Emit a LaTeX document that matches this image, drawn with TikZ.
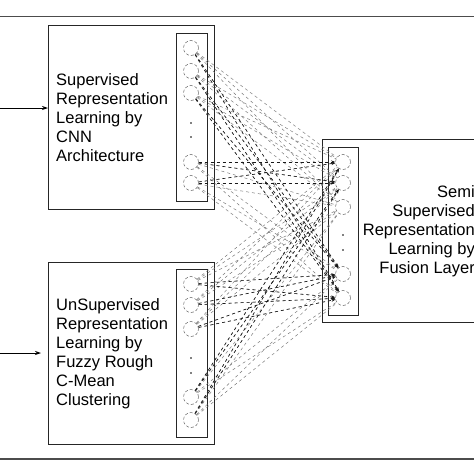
\documentclass[tikz,border=0pt]{standalone}
\usepackage{fontspec}
\setmainfont{Liberation Sans}
\usetikzlibrary{arrows.meta}
\begin{document}
\begin{tikzpicture}[x=1pt,y=-1pt,
 box/.style={draw=black!85, line width=1.3pt, inner sep=0pt, anchor=north west},
 neuron/.style={circle, draw=black!60, densely dashed, line width=0.5pt, minimum size=15pt, inner sep=0pt},
 faint/.style={draw=black!55, dashed, line width=0.45pt},
 strong/.style={draw=black!90, dashed, line width=0.6pt, -{Stealth[length=4pt,width=3pt]}},
 lbl/.style={font=\fontsize{16.5}{19}\selectfont, inner sep=0pt},
 rulestyle/.style={draw=black!70, line width=1.5pt},
 inarrow/.style={draw=black, line width=0.8pt, -{Stealth[length=6pt,width=4pt]}}]
\useasboundingbox (0,0) rectangle (474,474);
\fill[white] (0,0) rectangle (474,474);

% horizontal rules
\coordinate (tl) at (0,16.5); \coordinate (tr) at (474,16.5);
\coordinate (bl) at (0,459); \coordinate (br) at (474,459);
\draw[rulestyle] (tl) -- (tr);
\draw[rulestyle] (bl) -- (br);

% outer boxes
\node[box, minimum width=166pt, minimum height=184pt] (A) at (48,25) {};
\node[box, minimum width=166pt, minimum height=182pt] (B) at (48,262) {};
\node[box, minimum width=170pt, minimum height=183pt] (C) at (322,139) {};

% inner boxes
\node[box, minimum width=31pt, minimum height=168pt] (Ai) at (176,33) {};
\node[box, minimum width=31pt, minimum height=168pt] (Bi) at (176,269) {};
\node[box, minimum width=30pt, minimum height=168pt] (Ci) at (328,147) {};

% input arrows
\coordinate (inA) at (0,108);
\draw[inarrow] (inA) -- (inA -| A.west);
\coordinate (inB) at (0,353);
\coordinate (inBend) at (41,353);
\draw[inarrow] (inB) -- (inBend);

% labels
\node[lbl, align=left, anchor=west] (tA) at (56,118) {Supervised\\Representation\\Learning by\\CNN\\Architecture};
\node[lbl, align=left, anchor=west] (tB) at (56,354) {UnSupervised\\Representation\\Learning by\\Fuzzy Rough\\C-Mean\\Clustering};
\node[lbl, align=right, anchor=east] (tC) at (475,231) {Semi\\Supervised\\Representation\\Learning by\\Fusion Layer};

% neurons
\foreach \i/\y in {1/48,2/71,3/93,4/162,5/183} \node[neuron] (a\i) at (191,\y) {};
\foreach \i/\y in {1/284,2/305,3/329,4/397,5/420} \node[neuron] (b\i) at (191,\y) {};
\foreach \i/\y in {1/162,2/183,3/207,4/274,5/298} \node[neuron] (r\i) at (343,\y) {};
\foreach \y in {123,137} \fill (191,\y) circle (0.9);
\foreach \y in {358,373} \fill (191,\y) circle (0.9);
\foreach \y in {235,250} \fill (343,\y) circle (0.9);

% connections
\foreach \s in {a,b}
  \foreach \i in {1,...,5}
    \foreach \j in {1,...,5}
      \draw[faint] (\s\i) -- (r\j);
\foreach \i in {1,2,3} \foreach \j in {4,5} \draw[strong] (a\i) -- (r\j);
\foreach \i in {4,5} \foreach \j in {1,2} \draw[strong] (a\i) -- (r\j);
\foreach \i in {1,2,3} \foreach \j in {4,5} \draw[strong] (b\i) -- (r\j);
\foreach \i in {4,5} \foreach \j in {1,2} \draw[strong] (b\i) -- (r\j);
\end{tikzpicture}
\end{document}
